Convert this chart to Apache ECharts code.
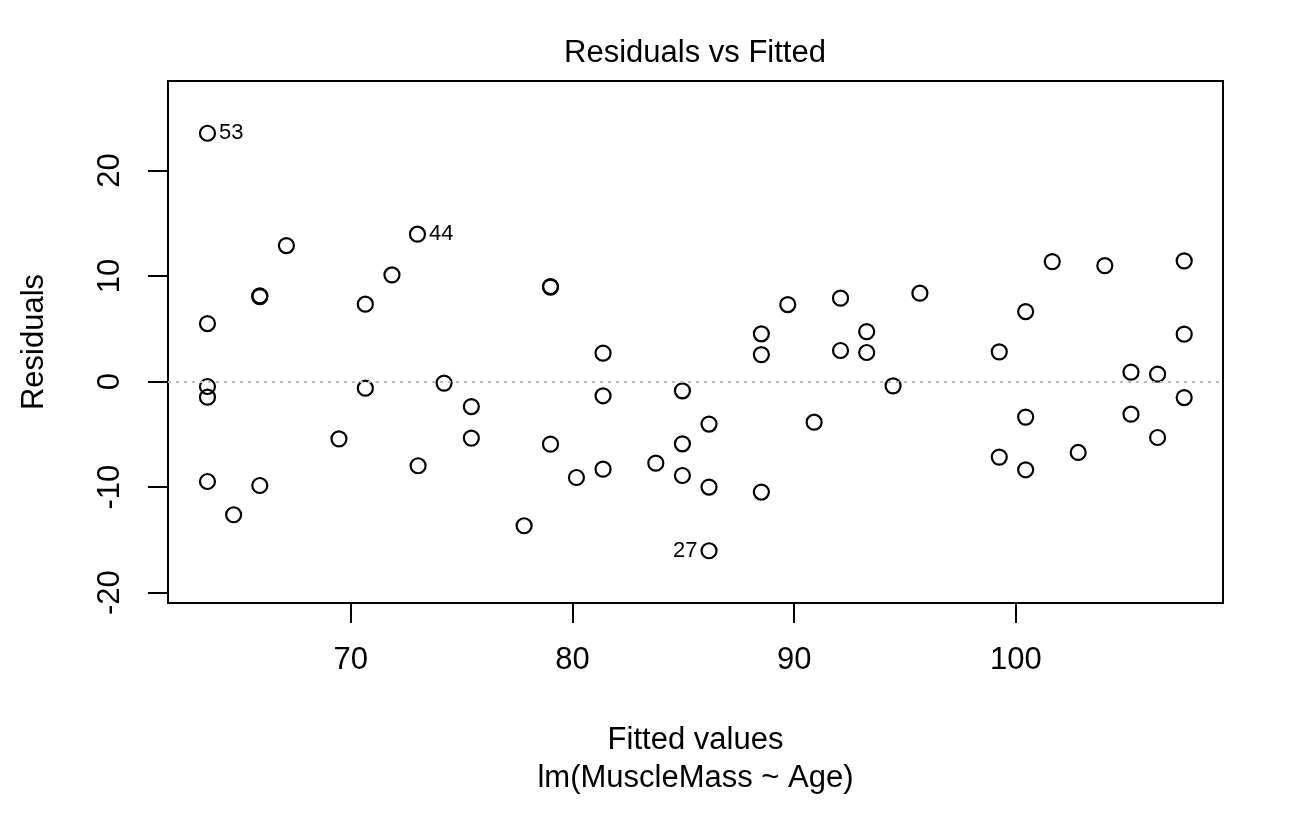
<!DOCTYPE html>
<html>
<head>
<meta charset="utf-8">
<script src="https://cdn.jsdelivr.net/npm/echarts@6/dist/echarts.min.js"></script>
<style>
html,body{margin:0;padding:0;background:#fff;}
#chart{width:1292px;height:818px;}
</style>
</head>
<body>
<div id="chart"></div>
<script>
// ---- data ----
const fittedValues = [63.54, 67.10, 65.90, 65.90, 63.54, 73.01, 71.86, 70.66,
  63.54, 63.54, 63.54, 64.72, 65.90, 69.47, 70.66, 73.04, 74.21,
  75.44, 75.44, 81.38, 81.38, 81.38, 79.01, 80.18, 77.82, 83.76, 84.96, 84.96, 84.96, 86.16, 86.16, 86.16,
  79.01, 79.01,
  88.52, 88.52, 89.71, 92.09, 92.09, 93.27, 93.27, 95.67,
  94.46, 90.90, 88.52,
  101.64, 104.01, 107.59, 107.59, 100.44, 99.25,
  100.44, 99.25, 100.44, 102.81, 105.19, 105.19, 106.39, 106.39, 107.59];
const residualValues = [23.52, 12.88, 8.05, 8.12, 5.49, 13.96, 10.10, 7.33,
  -0.47, -1.48, -9.47, -12.62, -9.85, -5.43, -0.63, -7.98, -0.15,
  -2.37, -5.36, 2.69, -1.35, -8.30, -5.93, -9.09, -13.66, -7.73, -0.88, -5.90, -8.90, -4.03, -10.00, -16.03,
  9.00, 8.95,
  4.52, 2.55, 7.29, 7.90, 2.94, 4.73, 2.75, 8.37,
  -0.41, -3.85, -10.47,
  11.36, 10.98, 11.43, 4.49, 6.63, 2.81,
  -3.37, -7.16, -8.36, -6.72, 0.89, -3.09, 0.70, -5.30, -1.52];
const labelIndex = [0, 5, 31];
const labelNames = ['53', '44', '27'];
const labelSides = ['right', 'right', 'left'];
const xTicks = [70, 80, 90, 100];
const yTicks = [-20, -10, 0, 10, 20];
const titleText = 'Residuals vs Fitted';
const xName = 'Fitted values';
const subCaption = 'lm(MuscleMass ~ Age)';
const yName = 'Residuals';

const FONT = 'Liberation Sans';
const points = fittedValues.map((x, i) => {
  const k = labelIndex.indexOf(i);
  const item = { value: [x, residualValues[i]] };
  if (k >= 0) {
    item.label = {
      show: true, formatter: labelNames[k], position: labelSides[k],
      distance: 3, fontSize: 22, fontFamily: FONT, color: '#000'
    };
  }
  return item;
});

const chart = echarts.init(document.getElementById('chart'));
chart.setOption({
  animation: false,
  backgroundColor: '#fff',
  grid: { left: 168, right: 69, top: 81, bottom: 215, show: true, borderColor: '#000', borderWidth: 2, backgroundColor: 'transparent' },
  graphic: [{
    type: 'text', x: 695, y: 53,
    style: { text: titleText, fontSize: 31, fontFamily: FONT, fill: '#000', align: 'center', verticalAlign: 'middle' }
  }],
  xAxis: {
    type: 'value', min: 61.76, max: 109.34,
    name: xName + '\n' + subCaption, nameLocation: 'middle', nameGap: 118,
    nameTextStyle: { fontSize: 31, fontFamily: FONT, color: '#000', lineHeight: 38 },
    axisLine: { show: false, onZero: false },
    axisTick: { show: true, length: 20, customValues: xTicks, lineStyle: { color: '#000', width: 2 } },
    axisLabel: { customValues: xTicks, margin: 42, fontSize: 31, fontFamily: FONT, color: '#000' },
    splitLine: { show: false }
  },
  yAxis: {
    type: 'value', min: -20.98, max: 28.47,
    name: yName, nameLocation: 'middle', nameGap: 118,
    nameTextStyle: { fontSize: 31, fontFamily: FONT, color: '#000' },
    axisLine: { show: false, onZero: false },
    axisTick: { show: true, length: 20, customValues: yTicks, lineStyle: { color: '#000', width: 2 } },
    axisLabel: { customValues: yTicks, rotate: 90, margin: 58, align: 'center', verticalAlign: 'middle', fontSize: 31, fontFamily: FONT, color: '#000' },
    splitLine: { show: false }
  },
  series: [{
    type: 'scatter',
    symbol: 'circle',
    symbolSize: 15,
    itemStyle: { color: 'rgba(0,0,0,0)', borderColor: '#000', borderWidth: 2.2, opacity: 1 },
    label: { color: '#000' },
    data: points,
    markLine: {
      silent: true, symbol: 'none', label: { show: false },
      lineStyle: { color: '#bdbdbd', type: [3, 5], width: 2 },
      data: [{ yAxis: 0 }]
    }
  }]
});
</script>
</body>
</html>
